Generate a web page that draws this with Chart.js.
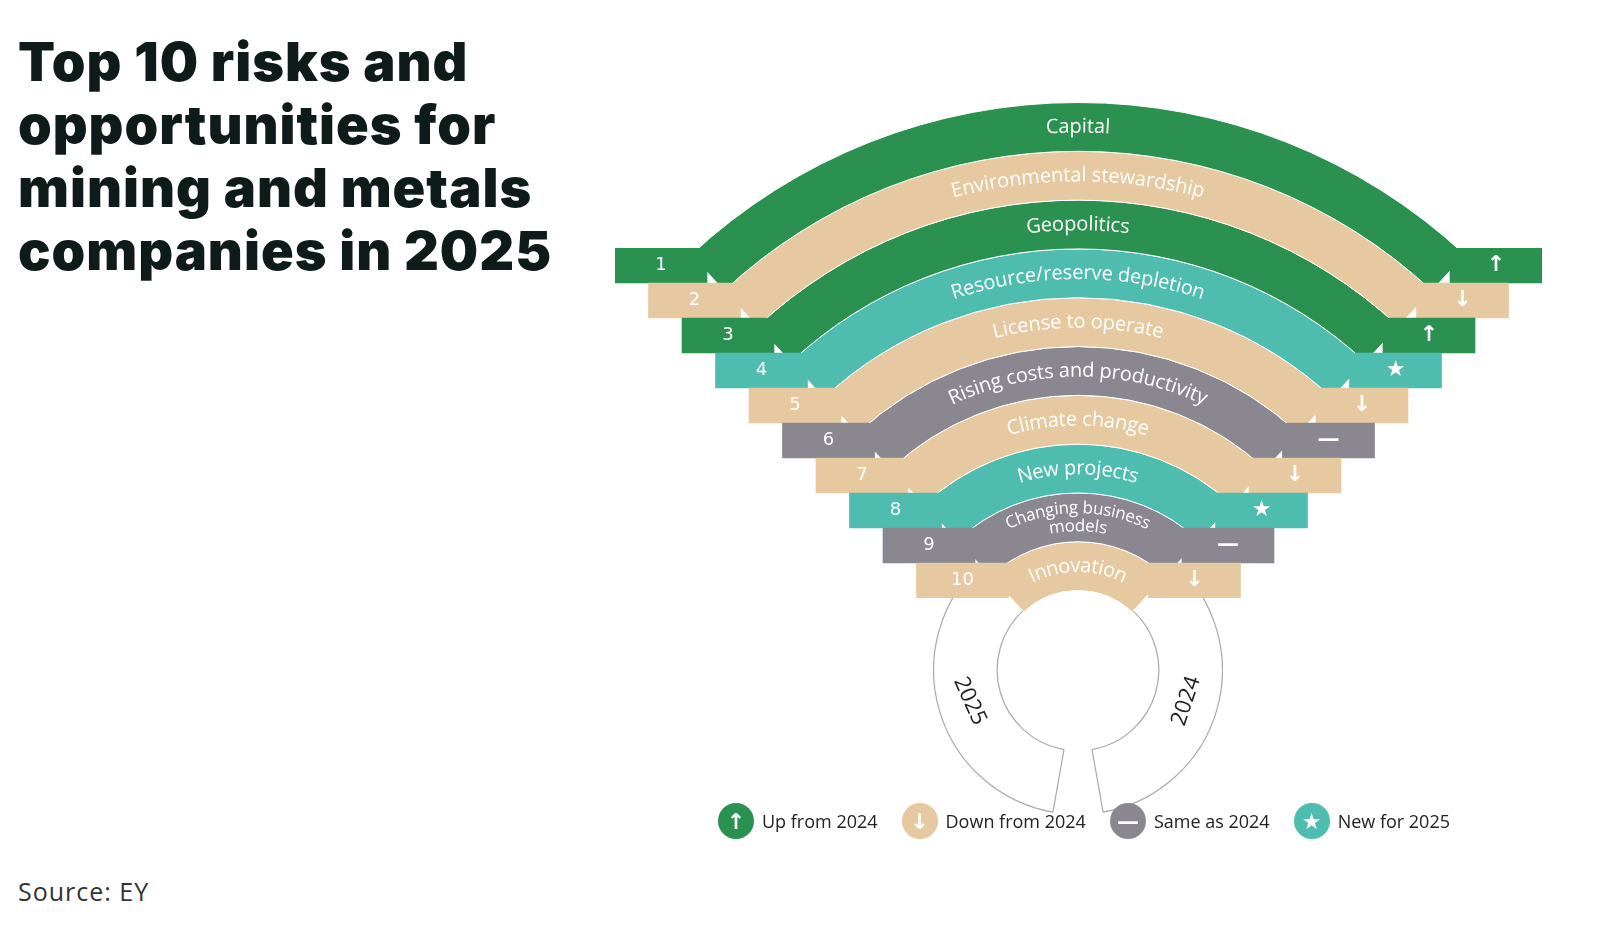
<!DOCTYPE html>
<html><head><meta charset="utf-8">
<script src="https://cdn.jsdelivr.net/npm/chart.js@4.4.1/dist/chart.umd.min.js"></script>
<style>
body{margin:0;width:1600px;height:936px;overflow:hidden;background:#fff;position:relative;font-family:"Open Sans",sans-serif}
h1{position:absolute;left:18px;top:30px;margin:0;font-family:Inter,sans-serif;font-weight:900;font-size:54px;line-height:63px;color:#0f1a1a;letter-spacing:1px}
.src{position:absolute;left:18px;top:874px;font-size:25px;color:#333;letter-spacing:1px}
canvas{position:absolute}
.legend{position:absolute;top:803px;left:718px;display:flex;gap:24px;font-size:18px;color:#222;align-items:center}
.legend span{display:flex;align-items:center;gap:8px}
.legend i{display:inline-flex;width:36px;height:36px;border-radius:50%;color:#fff;font-style:normal;align-items:center;justify-content:center;font-size:22px;font-weight:bold;font-family:"DejaVu Sans"}
</style></head><body>
<h1>Top 10 risks and<br>opportunities for<br>mining and metals<br>companies in 2025</h1>
<canvas id="years" width="290" height="290" style="left:933px;top:525px"></canvas>
<canvas id="rings" width="1136" height="1136" style="left:510px;top:102px"></canvas>
<canvas id="left" width="420" height="350" style="left:615px;top:248px"></canvas>
<canvas id="right" width="420" height="350" style="left:1122px;top:248px"></canvas>
<div class="legend">
<span><i style="background:#2a9150">↑</i>Up from 2024</span>
<span><i style="background:#e6c9a0">↓</i>Down from 2024</span>
<span><i style="background:#8a8790">—</i>Same as 2024</span>
<span><i style="background:#4fbcb0">★</i>New for 2025</span>
</div>
<div class="src">Source: EY</div>
<script>
// --- data ---
const risks = ["Capital", "Environmental stewardship", "Geopolitics", "Resource/reserve depletion",
  "License to operate", "Rising costs and productivity", "Climate change", "New projects",
  "Changing business\nmodels", "Innovation"];
const ranks = ["1", "2", "3", "4", "5", "6", "7", "8", "9", "10"];
const riskType = ["green", "tan", "green", "teal", "tan", "gray", "tan", "teal", "gray", "tan"];
const change = ["up", "down", "up", "new", "down", "same", "down", "new", "same", "down"];
const years = ["2025", "2024"];

const colors = { green: "#2a9150", tan: "#e6c9a0", teal: "#4fbcb0", gray: "#8a8790" };
const changeColor = { up: colors.green, down: colors.tan, same: colors.gray, new: colors.teal };
const changeMark = { up: "↑", down: "↓", same: "—", new: "★" };

const SPAN = 86;

// curved text along an arc, centred at the top
function arcText(ctx, text, cx, cy, r) {
  const w = ctx.measureText(text).width;
  let a = -Math.PI / 2 - w / (2 * r);
  for (const ch of text) {
    const cw = ctx.measureText(ch).width;
    const m = a + cw / (2 * r);
    ctx.save();
    ctx.translate(cx + r * Math.cos(m), cy + r * Math.sin(m));
    ctx.rotate(m + Math.PI / 2);
    ctx.fillText(ch, 0, 0);
    ctx.restore();
    a += cw / r;
  }
}

const ringLabels = {
  id: "ringLabels",
  afterDatasetsDraw(chart) {
    const ctx = chart.ctx;
    ctx.save();
    ctx.fillStyle = "#fff";
    ctx.textAlign = "center";
    ctx.textBaseline = "middle";
    chart.data.datasets.forEach((ds, i) => {
      const arc = chart.getDatasetMeta(i).data[0];
      const r = (arc.innerRadius + arc.outerRadius) / 2;
      const lines = risks[i].split("\n");
      ctx.font = (lines.length > 1 ? "17px" : "20px") + " 'Open Sans'";
      if (lines.length > 1) {
        arcText(ctx, lines[0], arc.x, arc.y, r + 9);
        arcText(ctx, lines[1], arc.x, arc.y, r - 9);
      } else {
        arcText(ctx, lines[0], arc.x, arc.y, r);
      }
    });
    ctx.restore();
  }
};

new Chart(document.getElementById("rings"), {
  type: "doughnut",
  data: {
    labels: ["risk", "gap"],
    datasets: risks.map((r, i) => ({
      data: [SPAN, 360 - SPAN],
      backgroundColor: [colors[riskType[i]], "rgba(0,0,0,0)"],
      borderColor: ["#ffffff", "rgba(0,0,0,0)"],
      borderWidth: 1
    }))
  },
  options: {
    responsive: false, animation: false, rotation: -SPAN / 2, cutout: "14%",
    plugins: { legend: { display: false }, tooltip: { enabled: false } }
  },
  plugins: [ringLabels]
});

// 2025 / 2024 arcs
const yearLabels = {
  id: "yearLabels",
  afterDatasetsDraw(chart) {
    const ctx = chart.ctx;
    const arcs = chart.getDatasetMeta(0).data;
    ctx.save();
    ctx.fillStyle = "#222";
    ctx.font = "22px 'Open Sans'";
    ctx.textAlign = "center";
    ctx.textBaseline = "middle";
    [[0, years[0], 1.15], [2, years[1], -1.25]].forEach(([k, t, rot]) => {
      const a = arcs[k];
      const m = (a.startAngle + a.endAngle) / 2;
      const r = (a.innerRadius + a.outerRadius) / 2;
      ctx.save();
      ctx.translate(a.x + r * Math.cos(m), a.y + r * Math.sin(m));
      ctx.rotate(rot);
      ctx.fillText(t, 0, 0);
      ctx.restore();
    });
    ctx.restore();
  }
};
new Chart(document.getElementById("years"), {
  type: "doughnut",
  data: {
    labels: ["2025", "gap", "2024", "gap"],
    datasets: [{
      data: [128, 84, 128, 20],
      backgroundColor: ["#fff", "rgba(0,0,0,0)", "#fff", "rgba(0,0,0,0)"],
      borderColor: ["#aaa", "rgba(0,0,0,0)", "#aaa", "rgba(0,0,0,0)"],
      borderWidth: 1.2
    }]
  },
  options: {
    responsive: false, animation: false, rotation: 190, cutout: "56%",
    plugins: { legend: { display: false }, tooltip: { enabled: false } }
  },
  plugins: [yearLabels]
});

// side bands with ranks and change marks
function bandLabels(texts, size) {
  return {
    id: "bandLabels",
    afterDatasetsDraw(chart) {
      const ctx = chart.ctx;
      ctx.save();
      ctx.fillStyle = "#fff";
      ctx.font = size + " 'DejaVu Sans'";
      ctx.textAlign = "center";
      ctx.textBaseline = "middle";
      chart.getDatasetMeta(0).data.forEach((b, i) => {
        ctx.fillText(texts[i], (b.x + b.base) / 2, b.y);
      });
      ctx.restore();
    }
  };
}
function bandChart(id, ranges, bg, texts, size) {
  new Chart(document.getElementById(id), {
    type: "bar",
    data: { labels: ranks, datasets: [{ data: ranges, backgroundColor: bg, borderWidth: 0,
      barPercentage: 1, categoryPercentage: 1 }] },
    options: {
      indexAxis: "y", responsive: false, animation: false,
      layout: { padding: 0 },
      scales: { x: { display: false, min: 0, max: 420 }, y: { display: false } },
      plugins: { legend: { display: false }, tooltip: { enabled: false } }
    },
    plugins: [bandLabels(texts, size)]
  });
}
const STEP = 33.5, WIDTH = 92;
bandChart("left", ranks.map((r, i) => [i * STEP, i * STEP + WIDTH]),
  riskType.map(t => colors[t]), ranks, "18px");
bandChart("right", ranks.map((r, i) => [420 - i * STEP - WIDTH, 420 - i * STEP]),
  change.map(c => changeColor[c]), change.map(c => changeMark[c]), "bold 22px");
</script>
</body></html>
